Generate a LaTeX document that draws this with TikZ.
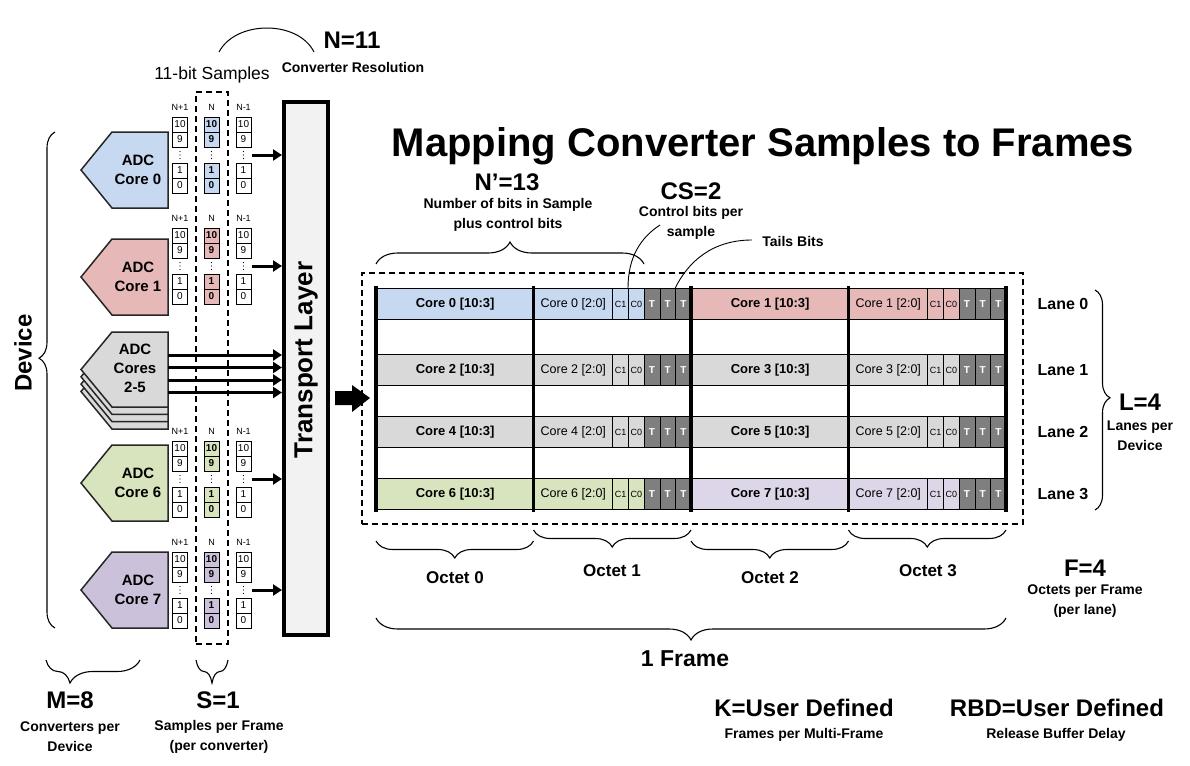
\documentclass[tikz,border=0pt]{standalone}
\usepackage{fontspec}
\setmainfont{Liberation Sans}
\usetikzlibrary{decorations.pathreplacing,arrows.meta}
\definecolor{cblue}{HTML}{C6D9F0}
\definecolor{cpink}{HTML}{E6B9B8}
\definecolor{cgray}{HTML}{D9D9D9}
\definecolor{cgreen}{HTML}{D7E4BD}
\definecolor{clav}{HTML}{CCC1DA}
\definecolor{clavf}{HTML}{DDD6E8}
\definecolor{ctail}{HTML}{7F7F7F}
\definecolor{ctl}{HTML}{F2F2F2}
\begin{document}
\begin{tikzpicture}[x=1pt,y=-1pt,
  big/.style={font=\fontsize{24}{28}\selectfont\bfseries, inner sep=0},
  sub/.style={font=\fontsize{14}{20}\selectfont\bfseries, align=center, inner sep=0},
  adcshape/.style={draw=black!85, line width=1.5},
  adctext/.style={font=\fontsize{15}{19}\selectfont\bfseries, align=center, inner sep=0},
  bitbox/.style={draw, line width=0.8, minimum width=15, minimum height=15, inner sep=0},
  bitn/.style={font=\fontsize{10}{10}\selectfont},
  bitb/.style={font=\fontsize{10}{10}\selectfont\bfseries},
  bitlbl/.style={font=\fontsize{9}{9}\selectfont, inner sep=0},
  arr/.style={line width=3, -{Triangle[length=9pt,width=11pt]}},
  dashbox/.style={draw, line width=1.5, dash pattern=on 6pt off 4pt, inner sep=0},
  cell/.style={draw, line width=0.8, minimum height=31, inner sep=0, anchor=north west},
  hitext/.style={font=\fontsize{13}{13}\selectfont\bfseries},
  lotext/.style={font=\fontsize{12.5}{12.5}\selectfont},
  ctext/.style={font=\fontsize{9}{9}\selectfont},
  tcell/.style={cell, minimum width=15.75, fill=ctail, text=white, font=\fontsize{10}{10}\selectfont\bfseries},
  lanelbl/.style={font=\fontsize{16}{16}\selectfont\bfseries, inner sep=0},
  octlbl/.style={font=\fontsize{17}{17}\selectfont\bfseries, inner sep=0},
  brc/.style={decorate, line width=1.1},
  conn/.style={line width=0.9}
]
\useasboundingbox (0,0) rectangle (1190,765);

% ---------- title ----------
\node[font=\fontsize{40}{48}\selectfont\bfseries, inner sep=0] (title) at (763,146) {Mapping Converter Samples to Frames};

% ---------- N=11 ----------
\node[big] (nres) at (352,40) {N=11};
\node[sub] (nressub) at (353,67) {Converter Resolution};
\node[font=\fontsize{17.5}{20}\selectfont, inner sep=0] (samples11) at (212,75) {11-bit Samples};
\coordinate (arcA) at (219,52);
\coordinate (arcB) at (314,52);
\draw[line width=1] (arcA) .. controls (236,20) and (298,20) .. (arcB);

% ---------- transport layer ----------
\node[draw, line width=4, fill=ctl, minimum width=44, minimum height=533, inner sep=0] (tl) at (306,368.5) {};
\node[rotate=90, font=\fontsize{26}{30}\selectfont\bfseries, inner sep=0] (tltext) at (306,360) {Transport Layer};

% ---------- dashed sample box ----------
\node[dashbox, minimum width=32, minimum height=552] (sbox) at (212,368) {};

% ---------- ADC cores with bit columns ----------
\foreach \k/\c/\col/\d in {0/170/cblue/155, 1/277/cpink/266, 6/483/cgreen/479, 7/590/clav/590} {
  \draw[adcshape, fill=\col] (112,\c-38) -- (168,\c-38) -- (168,\c+38) -- (112,\c+38) -- (81,\c) -- cycle;
  \node[adctext] (adc\k) at (138,\c) {ADC\\Core \k};
  \foreach \x/\lab/\fc/\bw/\j in {180/N+1/white/bitn/a, 211.5/N/\col/bitb/b, 243.5/N-1/white/bitn/c} {
    \node[bitlbl] (l\k\j) at (\x,\d-48) {\lab};
    \node[bitbox,\bw,fill=\fc] (t\k\j) at (\x,\d-30.5) {10};
    \node[bitbox,\bw,fill=\fc] (n\k\j) at (\x,\d-15.5) {9};
    \node[inner sep=0, minimum width=16, minimum height=10] (d\k\j) at (\x,\d) {};
    \fill[black!70!blue] (\x,\d-3.5) circle (0.7) (\x,\d) circle (0.7) (\x,\d+3.5) circle (0.7);
    \node[bitbox,\bw,fill=\fc] (o\k\j) at (\x,\d+15.5) {1};
    \node[bitbox,\bw,fill=\fc] (z\k\j) at (\x,\d+30.5) {0};
  }
  \draw[arr] (d\k c.east) -- (d\k c.east -| tl.west);
}

% ---------- ADC cores 2-5 (stack) ----------
\foreach \off in {22,14.6,7.3,0} {
  \draw[adcshape, fill=cgray] (112,332+\off) -- (168,332+\off) -- (168,407+\off) -- (112,407+\off) -- (81,369.5+\off) -- cycle;
}
\node[adctext] (adc25) at (135,368) {ADC\\Cores\\2-5};
\foreach \y [count=\i] in {355,367.5,380,392.5} {
  \coordinate (s\i) at (168,\y);
  \draw[arr] (s\i) -- (s\i -| tl.west);
}

% ---------- Device brace ----------
\draw[brc, decoration={brace, amplitude=16pt, aspect=0.544}] (55,628) -- (55,132);
\node[big, rotate=90] (devlbl) at (23,353) {Device};

% ---------- big arrow ----------
\fill (335,391) -- (352,391) -- (352,385) -- (370,398) -- (352,412) -- (352,405) -- (335,405) -- cycle;

% ---------- frame ----------
\node[dashbox, minimum width=661, minimum height=251] (frame) at (692.5,398.5) {};

\foreach \lane/\t/\ca/\cb/\ka/\kb in {0/288/cblue/cpink/0/1, 1/354/cgray/cgray/2/3, 2/416/cgray/cgray/4/5, 3/478/cgreen/clavf/6/7} {
  \foreach \o/\k/\c in {376/\ka/\ca, 691/\kb/\cb} {
    \node[cell, minimum width=157.5, fill=\c, hitext] (hi\k) at (\o,\t) {Core \k\ [10:3]};
    \node[cell, minimum width=78.75, fill=\c, lotext] (lo\k) at (\o+157.5,\t) {Core \k\ [2:0]};
    \node[cell, minimum width=15.75, fill=\c, ctext] (cb\k) at (\o+236.25,\t) {C1};
    \node[cell, minimum width=15.75, fill=\c, ctext] (cc\k) at (\o+252,\t) {C0};
    \node[tcell] (ta\k) at (\o+267.75,\t) {T};
    \node[tcell] (tb\k) at (\o+283.5,\t) {T};
    \node[tcell] (tc\k) at (\o+299.25,\t) {T};
  }
  \node[lanelbl] (lane\lane) at (1063,\t+16) {Lane \lane};
}
\foreach \X in {376,533.5,691,848.5,1006} {
  \draw[line width=3.5] (\X,286) -- (\X,512);
}

% ---------- N' and CS, tails ----------
\node[big] (nprime) at (507,182) {N’=13};
\node[sub] (nprimesub) at (508,215) {Number of bits in Sample\\plus control bits};
\draw[brc, decoration={brace, amplitude=22pt}] (376,264) -- (644,264);
\node[big] (cs) at (691,191) {CS=2};
\node[sub] (cssub) at (691,223) {Control bits per\\sample};
\node[sub] (tails) at (793,241) {Tails Bits};
\coordinate (csfrom) at (660,225);
\draw[conn] (csfrom) .. controls (640,238) and (628,258) .. (cc0.north west);
\coordinate (tailfrom) at (752,240);
\draw[conn] (tailfrom) .. controls (712,240) and (688,262) .. (tc0.north west);

% ---------- L=4 ----------
\draw[brc, decoration={brace, amplitude=15pt, aspect=0.49}] (1095,290) -- (1095,510);
\node[big] (lfour) at (1140,402) {L=4};
\node[sub] (lfoursub) at (1140,436) {Lanes per\\Device};

% ---------- octets ----------
\draw[brc, decoration={brace, amplitude=17pt}] (533.5,541) -- (376,541);
\draw[brc, decoration={brace, amplitude=17pt}] (691,530) -- (533.5,530);
\draw[brc, decoration={brace, amplitude=17pt}] (848.5,541) -- (691,541);
\draw[brc, decoration={brace, amplitude=17pt}] (1006,530) -- (848.5,530);
\node[octlbl] (oct0) at (455,578) {Octet 0};
\node[octlbl] (oct1) at (612,571) {Octet 1};
\node[octlbl] (oct2) at (770,578) {Octet 2};
\node[octlbl] (oct3) at (928,571) {Octet 3};
\node[big] (ffour) at (1085,568) {F=4};
\node[sub] (ffoursub) at (1085,601.5) {Octets per Frame\\(per lane)};

% ---------- 1 frame ----------
\draw[brc, decoration={brace, amplitude=22pt}] (1006,618) -- (376,618);
\node[font=\fontsize{23}{23}\selectfont\bfseries, inner sep=0] (oneframe) at (685,659) {1 Frame};

% ---------- M and S ----------
\draw[brc, decoration={brace, amplitude=23pt, aspect=0.745}] (140,660) -- (46,660);
\draw[brc, decoration={brace, amplitude=23pt}] (228,660) -- (196,660);
\node[big] (mlbl) at (70,700) {M=8};
\node[sub] (mlblsub) at (70,737) {Converters per\\Device};
\node[big] (slbl) at (218,700) {S=1};
\node[sub] (slblsub) at (219,737) {Samples per Frame\\(per converter)};

% ---------- K and RBD ----------
\node[big] (klbl) at (804,708) {K=User Defined};
\node[sub] (klblsub) at (804,735) {Frames per Multi-Frame};
\node[big] (rbd) at (1057,708) {RBD=User Defined};
\node[sub] (rbdsub) at (1056,735) {Release Buffer Delay};
\end{tikzpicture}
\end{document}
